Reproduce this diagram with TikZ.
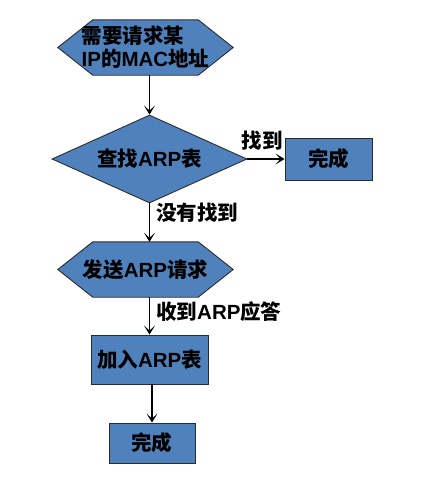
\documentclass[tikz,border=0pt]{standalone}
\usepackage{fontspec}
\setmainfont{Liberation Sans}
\newfontfamily\cjk{Noto Sans CJK SC}
\usetikzlibrary{shapes.geometric,arrows.meta,backgrounds}
\newcommand\zh[1]{{\cjk\bfseries #1}}
\definecolor{boxblue}{HTML}{4F81BD}
\definecolor{edgegray}{HTML}{2B2B2B}
\tikzset{
  txt/.style={font=\fontsize{20.5}{23}\selectfont\bfseries, text=black, inner sep=0pt},
  boxnode/.style={txt, draw=edgegray, line width=0.9pt, fill=boxblue, rectangle},
  dianode/.style={txt, draw=edgegray, line width=0.9pt, fill=boxblue, diamond, aspect=2.2, inner sep=0pt},
  hexfill/.style={draw=edgegray, line width=0.9pt, fill=boxblue},
  arr/.style={line width=1.3pt, -{Stealth[length=9pt,width=11pt,inset=5pt]}},
  lbl/.style={txt}
}
\newcommand\hexaround[2]{%
  \draw[hexfill] (#1.west) -- ([xshift=#2]#1.north west) -- ([xshift=-#2]#1.north east)
    -- (#1.east) -- ([xshift=-#2]#1.south east) -- ([xshift=#2]#1.south west) -- cycle;}
\begin{document}
\begin{tikzpicture}[x=1pt,y=-1pt]
\useasboundingbox (0,0) rectangle (447,483);
\node[txt, align=left, minimum width=175pt, minimum height=55pt] (h1) at (145.5,47.5)
  {\zh{需要请求某}\\IP\zh{的}MAC\zh{地址}};
\node[dianode, minimum width=195pt, minimum height=88pt] (d) at (149.5,159) {\zh{查找}ARP\zh{表}};
\node[boxnode, minimum width=87pt, minimum height=42pt] (f1) at (328.5,159) {\zh{完成}};
\node[txt, minimum width=175pt, minimum height=55pt] (h2) at (145.5,269.5) {\zh{发送}ARP\zh{请求}};
\node[boxnode, minimum width=117pt, minimum height=49pt] (a) at (149.5,359.5) {\zh{加入}ARP\zh{表}};
\node[boxnode, minimum width=86pt, minimum height=40pt] (f2) at (152,443) {\zh{完成}};
\begin{scope}[on background layer]
  \hexaround{h1}{35pt}
  \hexaround{h2}{35pt}
\end{scope}
\node[lbl] (l1) at (262,141) {\zh{找到}};
\node[lbl, anchor=west] (l2) at (156,213) {\zh{没有找到}};
\node[lbl, anchor=west] (l3) at (156,312) {\zh{收到}ARP\zh{应答}};
\draw[arr] (h1.south -| d.north) -- (d.north);
\draw[arr] (d.east) -- (f1.west);
\draw[arr] (d.south) -- (d.south |- h2.north);
\draw[arr] (h2.south -| d.south) -- (a.north);
\draw[arr] (a.south -| f2.north) -- (f2.north);
\end{tikzpicture}
\end{document}
